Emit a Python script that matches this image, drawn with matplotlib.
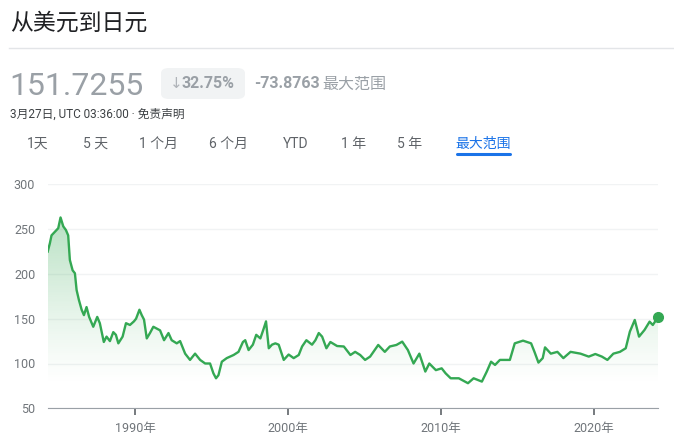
import numpy as np
import matplotlib.pyplot as plt
from matplotlib.patches import FancyBboxPatch

plt.rcParams['font.family'] = ['Roboto', 'Noto Sans CJK SC', 'DejaVu Sans']

# USD -> JPY
years = [1984.29, 1984.43, 1984.54, 1984.76, 1984.98, 1985.13, 1985.31, 1985.48,
         1985.63, 1985.74, 1985.92, 1986.07, 1986.18, 1986.33, 1986.51, 1986.66,
         1986.83, 1987.0, 1987.27, 1987.53, 1987.7, 1987.96, 1988.14, 1988.36,
         1988.58, 1988.75, 1988.91, 1989.19, 1989.41, 1989.67, 1989.93, 1990.07,
         1990.29, 1990.44, 1990.59, 1990.77, 1990.98, 1991.2, 1991.42, 1991.64,
         1991.9, 1992.19, 1992.4, 1992.73, 1992.95, 1993.28, 1993.6, 1993.93,
         1994.26, 1994.59, 1994.91, 1995.13, 1995.3, 1995.46, 1995.68, 1996.0,
         1996.45, 1996.77, 1997.06, 1997.21, 1997.43, 1997.71, 1997.93, 1998.2,
         1998.42, 1998.57, 1998.75, 1998.96, 1999.18, 1999.4, 1999.73, 2000.05,
         2000.38, 2000.71, 2000.93, 2001.21, 2001.58, 2001.8, 2002.02, 2002.24,
         2002.52, 2002.78, 2003.22, 2003.66, 2004.09, 2004.4, 2004.73, 2005.05,
         2005.38, 2005.91, 2006.34, 2006.67, 2007.1, 2007.48, 2007.85, 2008.22,
         2008.6, 2008.99, 2009.25, 2009.68, 2010.06, 2010.32, 2010.65, 2011.18,
         2011.78, 2012.15, 2012.69, 2013.01, 2013.29, 2013.55, 2013.87, 2014.52,
         2014.84, 2015.38, 2015.91, 2016.13, 2016.39, 2016.67, 2016.82, 2017.2,
         2017.63, 2018.02, 2018.49, 2019.14, 2019.68, 2020.11, 2020.54, 2020.9,
         2021.29, 2021.72, 2022.1, 2022.37, 2022.69, 2022.97, 2023.33, 2023.66,
         2023.87, 2024.21]
rates = [224.9, 234, 243, 247, 251, 263, 253, 249,
         243, 215.5, 204, 200.7, 182, 171, 160, 154,
         163, 152, 141, 152, 145, 124, 130, 125,
         135, 132, 122.5, 130, 145, 143, 147, 150,
         160, 154, 149, 128, 134, 141, 139, 137,
         126, 134, 126, 122.5, 125, 111, 104, 111,
         104, 100, 100, 89, 83.5, 87, 102, 106,
         109.5, 113, 124, 126, 115, 121, 132, 128,
         139, 147, 117, 121, 122.5, 121, 104, 110,
         106, 109.5, 119, 126, 121, 126, 134, 130,
         117, 124, 119.5, 119, 109.5, 113, 109.5, 104,
         107.7, 120.7, 113, 119, 120.7, 124.4, 115, 100,
         111, 91, 100, 92.6, 94.6, 89, 83.5, 83.5,
         78, 83.5, 79.8, 91, 102, 98.4, 104, 104,
         122.5, 125.5, 122.5, 113, 101, 106, 118, 111,
         113, 106, 113, 111, 107.7, 110.6, 107.7, 104,
         111, 113, 117, 135.6, 148.6, 130, 137.5, 146.7,
         143, 151.73]

yticks = [50, 100, 150, 200, 250, 300]
xticks = [1990, 2000, 2010, 2020]
xlabels = ['1990年', '2000年', '2010年', '2020年']
tabs = ['1天', '5 天', '1 个月', '6 个月', 'YTD', '1 年', '5 年', '最大范围']
tab_x = [27, 83, 139, 209, 283, 341, 397, 455]

W, H = 674, 441
fig = plt.figure(figsize=(W / 100, H / 100), dpi=100)
green = '#34a853'
grey = '#70757a'

def fx(px):
    return px / W

def fy(py):
    return 1 - py / H

# header
fig.text(fx(10), fy(23), '从美元到日元', fontsize=16.5, color='#202124', va='center')
fig.add_artist(plt.Line2D([fx(9), 1], [fy(47.5), fy(47.5)], color='#e3e5e8', lw=1))
fig.text(fx(9), fy(86), '151.7255', fontsize=23, color='#9aa0a6', va='center')
badge = FancyBboxPatch((fx(161), fy(99)), fx(84), 31 / H,
                       boxstyle='round,pad=0,rounding_size=0.012',
                       transform=fig.transFigure, fc='#f1f3f4', ec='none')
fig.add_artist(badge)
fig.text(fx(170), fy(84), '↓', fontsize=11, color='#b0b4b9', va='center', family='DejaVu Sans')
fig.text(fx(182), fy(84), '32.75%', fontsize=11.5, color='#9aa0a6', va='center', weight='bold')
fig.text(fx(254), fy(84), '-73.8763', fontsize=11.5, color='#9aa0a6', va='center', weight='bold')
fig.text(fx(322), fy(84), '最大范围', fontsize=11.5, color='#9aa0a6', va='center')
fig.text(fx(10), fy(114), '3月27日, UTC 03:36:00 · 免责声明', fontsize=8.5, color='#3c4043', va='center')

for label, x in zip(tabs, tab_x):
    c = '#1a73e8' if label == '最大范围' else '#5f6368'
    fig.text(fx(x), fy(144), label, fontsize=10, color=c, va='center')
fig.add_artist(plt.Line2D([fx(457), fx(510)], [fy(154), fy(154)], color='#1a73e8', lw=2.2,
                          solid_capstyle='round'))

# chart
ax = fig.add_axes([fx(47.7), fy(408.3), fx(658 - 47.7), (408.3 - 184.3) / H])
ax.set_xlim(1984.29, 2024.21)
ax.set_ylim(50, 300)

# gradient fill under the line
grad = np.linspace(0, 1, 256).reshape(-1, 1)
alpha = np.clip((grad - 0.12) / 0.85, 0, 1) ** 1.2 * 0.34
rgba = np.zeros((256, 1, 4))
rgba[..., 0], rgba[..., 1], rgba[..., 2] = 0x34 / 255, 0xa8 / 255, 0x53 / 255
rgba[..., 3] = alpha
img = ax.imshow(rgba, extent=[1984.29, 2024.21, 50, 265], origin='lower', aspect='auto', zorder=1)
poly = ax.fill_between(years, rates, 50, color='none')
img.set_clip_path(poly.get_paths()[0], transform=ax.transData)

ax.plot(years, rates, color=green, lw=1.7, zorder=3)
ax.plot(years[-1], rates[-1], 'o', color=green, ms=7, zorder=4, clip_on=False)

ax.set_yticks(yticks)
ax.set_xticks(xticks)
ax.set_xticklabels(xlabels)
ax.grid(axis='y', color='#f1f3f4', lw=1)
ax.set_axisbelow(True)
for s in ['top', 'right', 'left']:
    ax.spines[s].set_visible(False)
ax.spines['bottom'].set_color('#9aa0a6')
ax.tick_params(axis='y', length=0, pad=9, labelsize=9, labelcolor=grey)
ax.tick_params(axis='x', length=5, width=1.2, color='#5f6368', pad=5, labelsize=9, labelcolor=grey)

fig.savefig('out.png', dpi=100)
